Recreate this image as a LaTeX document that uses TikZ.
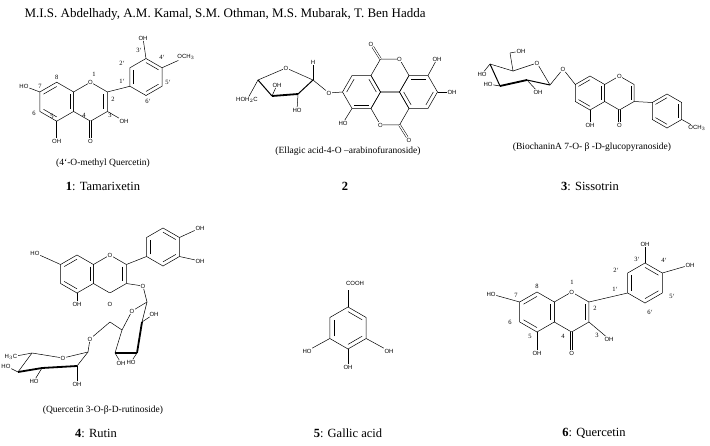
\documentclass[tikz,border=0pt]{standalone}
\usepackage{fontspec}
\setmainfont{Liberation Serif}
\newfontfamily\atomsans{Liberation Sans}
\usetikzlibrary{calc}
\newcommand\atomfont{\atomsans\fontsize{6}{6}\selectfont}
\newcommand\numfont{\fontsize{6.5}{6.5}\selectfont}
\newcommand\ringP[3]{\coordinate (#1c) at (#2);\foreach \k in {1,...,6}{\path (#2) ++({-90+60*(\k-1)}:#3) coordinate (#1\k);}}
\newcommand\ringF[3]{\coordinate (#1c) at (#2);\foreach \k in {1,...,6}{\path (#2) ++({60*(\k-1)}:#3) coordinate (#1\k);}}
\newcommand\ringdraw[1]{\draw[bond] (#11)--(#12)--(#13)--(#14)--(#15)--(#16)--cycle;}
\newcommand\dbl[3]{\draw[bond] ($(#1)!.22!(#3)$) -- ($(#2)!.22!(#3)$);}
\begin{document}
\begin{tikzpicture}[x=1pt,y=-1pt,
  bond/.style={line width=0.5pt},
  wedge/.style={line width=1.8pt},
  atom/.style={font=\atomfont,inner sep=0.6pt,fill=white},
  num/.style={font=\numfont,inner sep=0.3pt},
  capt/.style={font=\fontsize{9.5}{10}\selectfont},
  lab/.style={font=\fontsize{12.5}{13}\selectfont}]
\useasboundingbox (0,0) rectangle (710,445);
\node[anchor=west,font=\fontsize{13}{14}\selectfont] (title) at (21,14) {M.I.S. Abdelhady, A.M. Kamal, S.M. Othman, M.S. Mubarak, T. Ben Hadda};

% ---------- 1 Tamarixetin
\ringP{a}{56.7,101.7}{19.5}\ringP{c}{90.5,101.7}{19.5}\ringP{b}{146,77}{18.5}
\ringdraw{a}\ringdraw{c}\ringdraw{b}
\draw[bond] (c2)--(b5);
\dbl{a6}{a1}{ac}\dbl{a2}{a3}{ac}\dbl{a4}{a5}{ac}\dbl{c2}{c3}{cc}
\dbl{b5}{b6}{bc}\dbl{b1}{b2}{bc}\dbl{b3}{b4}{bc}
\node[atom] (s1o1) at (c1) {O};
\node[atom] (s1ho) at (24,86) {HO}; \draw[bond] (a6)--(s1ho);
\node[atom] (s1oh5) at (56.7,141) {OH}; \draw[bond] (a4)--(s1oh5);
\node[atom] (s1o4) at (90.5,141) {O}; \draw[bond,double,double distance=1.3pt] (c4)--(s1o4);
\node[atom] (s1oh3) at (124,121) {OH}; \draw[bond] (c3)--(s1oh3);
\node[atom] (s1oh3p) at (143,38) {OH}; \draw[bond] (b1)--(s1oh3p);
\node[atom] (s1ome) at (186,57) {OCH$_3$}; \draw[bond] (b2)--(s1ome);
\foreach \t/\p in {8/{56.7,77},7/{40,86},6/{34,113},5/{52,116},4/{84,115},3/{110,115},2/{113,99},1/{94,74},1`/{122,81},2`/{122,63},3`/{139,50},4`/{162,57},5`/{168,82},6`/{148,101}}
  \node[num] at (\p) {\t};
\node[capt] (s1cap) at (103,163) {(4`-O-methyl Quercetin)};
\node[lab] (s1lab) at (103,186) {\textbf{1}: Tamarixetin};

% ---------- 2 Ellagic acid glycoside
\ringF{T}{390,75.5}{19}\ringF{D}{390,108.5}{19}\ringF{L}{361.5,92}{19}\ringF{R}{418.5,92}{19}
\ringdraw{T}\ringdraw{D}\ringdraw{L}\ringdraw{R}
\dbl{L2}{L3}{Lc}\dbl{L4}{L5}{Lc}\dbl{L6}{L1}{Lc}
\dbl{R1}{R2}{Rc}\dbl{R3}{R4}{Rc}\dbl{R5}{R6}{Rc}
\node[atom] (s2ot) at (T6) {O};
\node[atom] (s2ob) at (D3) {O};
\node[atom] (s2co1) at (371,44) {O}; \draw[bond,double,double distance=1.3pt] (T5)--(s2co1);
\node[atom] (s2co2) at (409,140) {O}; \draw[bond,double,double distance=1.3pt] (D2)--(s2co2);
\node[atom] (s2oh1) at (437,59) {OH}; \draw[bond] (R6)--(s2oh1);
\node[atom] (s2oh2) at (452,92) {OH}; \draw[bond] (R1)--(s2oh2);
\node[atom] (s2ho) at (343,123) {HO}; \draw[bond] (L3)--(s2ho);
\node[atom] (s2og) at (329,93) {O}; \draw[bond] (L4)--(s2og);
\coordinate (f1) at (313,80);\coordinate (f2) at (298,94);\coordinate (f3) at (272,96);\coordinate (f4) at (258,80);
\node[atom] (s2of) at (286,68) {O};
\draw[bond] (s2of)--(f1); \draw[bond] (s2of)--(f4);
\draw[line width=1pt] (f1)--(f2); \draw[wedge] (f2)--(f3); \draw[line width=1pt] (f3)--(f4);
\draw[bond] (f1)--(s2og);
\node[atom] (s2h) at (313,62) {H}; \draw[bond] (f1)--(s2h);
\node[atom] (s2ho2) at (297,110) {HO}; \draw[bond] (f2)--(s2ho2);
\node[atom] (s2oh3) at (277,85) {OH}; \draw[bond] (f3)--(s2oh3);
\node[atom] (s2ch) at (247,100) {HOH$_2$C}; \draw[bond] (f4)--(s2ch);
\node[capt] (s2cap) at (348,151) {(Ellagic acid-4-O \textendash arabinofuranoside)};
\node[lab] (s2lab) at (345,186) {\textbf{2}};

% ---------- 3 Sissotrin
\ringP{e}{590,93}{17}\ringP{g}{619.4,93}{17}\ringP{p}{667,111}{17}
\ringdraw{e}\ringdraw{g}\ringdraw{p}
\draw[bond] (g3)--(p6);
\dbl{e6}{e1}{ec}\dbl{e2}{e3}{ec}\dbl{e4}{e5}{ec}\dbl{g2}{g3}{gc}
\dbl{p6}{p1}{pc}\dbl{p2}{p3}{pc}\dbl{p4}{p5}{pc}
\node[atom] (s3o1) at (g1) {O};
\node[atom] (s3o4) at (619.4,125) {O}; \draw[bond,double,double distance=1.3pt] (g4)--(s3o4);
\node[atom] (s3oh5) at (590,125) {OH}; \draw[bond] (e4)--(s3oh5);
\node[atom] (s3ome) at (697,128) {OCH$_3$}; \draw[bond] (p3)--(s3ome);
\node[atom] (s3og) at (563,69) {O}; \draw[bond] (e6)--(s3og);
\coordinate (q1) at (550,85);\coordinate (q2) at (527,80);\coordinate (q3) at (500,86);\coordinate (q4) at (490,64);\coordinate (q5) at (513,71);\coordinate (q6) at (510,53);
\node[atom] (s3oq) at (537,63) {O};
\draw[bond] (s3oq)--(q1); \draw[bond] (s3oq)--(q5);
\draw[line width=1pt] (q1)--(q2); \draw[wedge] (q2)--(q3); \draw[line width=1pt] (q3)--(q4); \draw[bond] (q4)--(q5)--(q6);
\draw[bond] (q1)--(s3og);
\node[atom] (s3oh6) at (521,51) {OH}; \draw[bond] (q6)--(s3oh6);
\node[atom] (s3ho4) at (482,74) {HO}; \draw[bond] (q4)--(s3ho4);
\node[atom] (s3ho3) at (488,84) {HO}; \draw[bond] (q3)--(s3ho3);
\node[atom] (s3oh2) at (538,92) {OH}; \draw[bond] (q2)--(s3oh2);
\node[capt] (s3cap) at (592,147) {(BiochaninA 7-O- β -D-glucopyranoside)};
\node[lab] (s3lab) at (590,186) {\textbf{3}: Sissotrin};

% ---------- 4 Rutin
\ringP{h}{77,274}{19}\ringP{k}{109.9,274}{19}\ringP{m}{163,247}{19}
\ringdraw{h}\ringdraw{k}\ringdraw{m}
\draw[bond] (k2)--(m5);
\dbl{h6}{h1}{hc}\dbl{h2}{h3}{hc}\dbl{h4}{h5}{hc}\dbl{k2}{k3}{kc}
\dbl{m5}{m6}{mc}\dbl{m1}{m2}{mc}\dbl{m3}{m4}{mc}
\node[atom] (s4o1) at (k1) {O};
\node[atom] (s4ho7) at (35,253) {HO}; \draw[bond] (h6)--(s4ho7);
\node[atom] (s4oh5) at (77,304) {OH}; \draw[bond] (h4)--(s4oh5);
\node[atom] (s4o4) at (109.9,304) {O}; \draw[bond,double,double distance=1.3pt] (k4)--(s4o4);
\node[atom] (s4oha) at (200,228) {OH}; \draw[bond] (m2)--(s4oha);
\node[atom] (s4ohb) at (200,261) {OH}; \draw[bond] (m3)--(s4ohb);
\node[atom] (s4o3) at (143,286) {O}; \draw[bond] (k3)--(s4o3);
\coordinate (u1) at (147,302);\coordinate (u5) at (122,330);\coordinate (u4) at (115,353);\coordinate (u3) at (137,353);\coordinate (u2) at (142,322);\coordinate (u6) at (110,322);
\node[atom] (s4ou) at (132,311) {O};
\draw[bond] (s4o3)--(u1)--(s4ou)--(u5)--(u4);
\draw[wedge] (u4)--(u3); \draw[wedge] (u3)--(u2); \draw[bond] (u2)--(u1); \draw[bond] (u5)--(u6);
\node[atom] (s4oh2) at (154,314) {OH}; \draw[bond] (u2)--(s4oh2);
\node[atom] (s4ho3) at (131,362) {HO}; \draw[bond] (u3)--(s4ho3);
\node[atom] (s4oh4) at (121,363) {OH}; \draw[bond] (u4)--(s4oh4);
\node[atom] (s4og) at (90,339) {O}; \draw[bond] (u6)--(s4og);
\coordinate (w1) at (88,352);\coordinate (w5) at (32,353);\coordinate (w4) at (18,372);\coordinate (w3) at (42,368);\coordinate (w2) at (77,366);
\node[atom] (s4ow) at (63,358) {O};
\draw[bond] (s4og)--(w1)--(s4ow)--(w5)--(w4);
\draw[wedge] (w4)--(w3); \draw[wedge] (w3)--(w2); \draw[bond] (w2)--(w1);
\node[atom] (s4me) at (11,357) {H$_3$C}; \draw[bond] (w5)--(s4me);
\node[atom] (s4ho4) at (6,366) {HO}; \draw[bond] (w4)--(s4ho4);
\node[atom] (s4ho5) at (34,381) {HO}; \draw[bond] (w3)--(s4ho5);
\node[atom] (s4oh6) at (77,384) {OH}; \draw[bond] (w2)--(s4oh6);
\node[capt] (s4cap) at (103,410) {(Quercetin 3-O-β-D-rutinoside)};
\node[lab] (s4lab) at (96,433) {\textbf{4}: Rutin};

% ---------- 5 Gallic acid
\ringP{n}{348,328}{21}
\ringdraw{n}
\dbl{n1}{n2}{nc}\dbl{n3}{n4}{nc}\dbl{n5}{n6}{nc}
\node[atom] (s5co) at (355,283) {COOH}; \draw[bond] (n1)--(348,290);
\node[atom] (s5oh1) at (307,351) {HO}; \draw[bond] (n5)--(s5oh1);
\node[atom] (s5oh2) at (389,351) {OH}; \draw[bond] (n3)--(s5oh2);
\node[atom] (s5oh3) at (348,367) {OH}; \draw[bond] (n4)--(s5oh3);
\node[lab] (s5lab) at (348,433) {\textbf{5}: Gallic acid};

% ---------- 6 Quercetin
\ringP{r}{537,312}{20}\ringP{s}{571.6,312}{20}\ringP{t}{645,283}{20}
\ringdraw{r}\ringdraw{s}\ringdraw{t}
\draw[bond] (s2)--(t5);
\dbl{r6}{r1}{rc}\dbl{r2}{r3}{rc}\dbl{r4}{r5}{rc}\dbl{s2}{s3}{sc}
\dbl{t5}{t6}{tc}\dbl{t1}{t2}{tc}\dbl{t3}{t4}{tc}
\node[atom] (s6o1) at (s1) {O};
\node[atom] (s6ho7) at (491,294) {HO}; \draw[bond] (r6)--(s6ho7);
\node[atom] (s6oh5) at (537,353) {OH}; \draw[bond] (r4)--(s6oh5);
\node[atom] (s6o4) at (571.6,353) {O}; \draw[bond,double,double distance=1.3pt] (s4)--(s6o4);
\node[atom] (s6oh3) at (609,339) {OH}; \draw[bond] (s3)--(s6oh3);
\node[atom] (s6oh3p) at (645,244) {OH}; \draw[bond] (t1)--(s6oh3p);
\node[atom] (s6oh4p) at (690,265) {OH}; \draw[bond] (t2)--(s6oh4p);
\foreach \t/\p in {8/{537,286},7/{516,295},6/{510,322},5/{530,336},4/{563,336},3/{597,335},2/{595,308},1/{572,282},1`/{615,289},2`/{616,270},3`/{637,259},4`/{664,260},5`/{672,296},6`/{650,312}}
  \node[num] at (\p) {\t};
\node[lab] (s6lab) at (594,433) {\textbf{6}: Quercetin};
\end{tikzpicture}
\end{document}
